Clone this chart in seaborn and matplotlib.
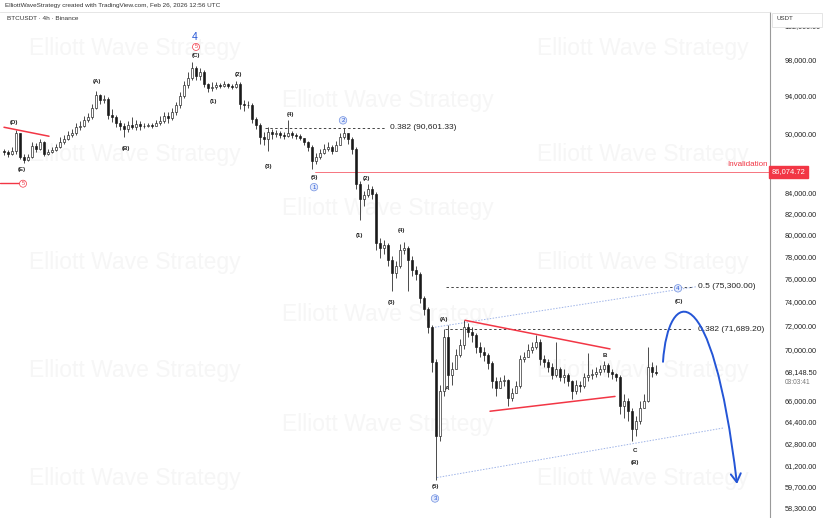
import numpy as np
import matplotlib
matplotlib.use("Agg")
import matplotlib.pyplot as plt
import matplotlib.transforms as mtransforms
from matplotlib.path import Path
from matplotlib.patches import FancyArrowPatch, Rectangle
from matplotlib.ticker import NullLocator, FixedLocator
import seaborn as sns

# BTCUSDT 4h candles
first_open = 88200
closes = [88060, 87860, 88170, 90010, 87560, 87260, 87560, 88680, 88370, 89080,
          87860, 88060, 88270, 88570, 89080, 89390, 89810, 90010, 90640, 90740,
          91370, 91680, 92740, 94140, 93600, 93710, 91890, 91680, 91060, 90740,
          90430, 90850, 90640, 90950, 90740, 90740, 90850, 90740, 91060, 91260,
          91790, 91580, 92210, 92960, 94030, 95220, 96000, 97100, 96210, 96660,
          95330, 94900, 95000, 95220, 95110, 95330, 95110, 95000, 95330, 93170,
          92960, 93060, 91470, 90850, 89600, 89390, 90120, 89910, 90010, 89810,
          89700, 90010, 89810, 89700, 89490, 89080, 88570, 87160, 87560, 87960,
          88370, 88570, 88170, 88780, 89600, 90010, 89390, 88370, 84890, 83440,
          83820, 84400, 83920, 79230, 78780, 79050, 77700, 76550, 77170, 78600,
          78780, 77700, 76810, 76460, 74380, 73360, 71860, 69030, 63340, 66700,
          71040, 68010, 68480, 69590, 70390, 71860, 71450, 71200, 70230, 69830,
          69590, 68950, 67470, 66930, 67470, 67620, 66160, 66540, 67080, 69270,
          69430, 69990, 70230, 70640, 69270, 69030, 68640, 68010, 68480, 67850,
          68010, 67470, 66700, 67230, 67080, 67850, 68010, 68090, 68250, 68480,
          68800, 68250, 68090, 67850, 65560, 65930, 65180, 63850, 64440, 65410,
          65930, 68640, 68250, 68148.5]
highs = [88370, 88270, 88570, 90330, 89810, 87860, 87860, 89080, 88980, 89390,
         89180, 88370, 88570, 88880, 89600, 89810, 90220, 90430, 91060, 91260,
         91790, 92110, 93170, 94570, 94250, 94140, 93920, 92530, 91890, 91370,
         91060, 91260, 91680, 91370, 91260, 91060, 91060, 91060, 91370, 91790,
         92210, 92210, 92640, 93390, 94470, 95660, 96660, 97780, 97330, 97100,
         96880, 95440, 95550, 95550, 95440, 95660, 95440, 95330, 95660, 95550,
         93600, 93490, 93280, 91680, 91060, 90120, 90640, 90430, 90330, 90220,
         90120, 91370, 90220, 90010, 89910, 89490, 89180, 88780, 87960, 88370,
         88880, 89080, 88780, 89180, 90010, 90530, 90010, 89600, 88570, 85180,
         84210, 84890, 84690, 84110, 79690, 79500, 79230, 78060, 77610, 79140,
         79320, 78960, 78060, 77170, 76640, 74550, 73530, 72030, 69270, 67230,
         71700, 72030, 69030, 70070, 70880, 72440, 72200, 71860, 71370, 70640,
         70230, 69750, 69110, 67850, 67850, 68010, 67700, 66930, 67470, 69590,
         69830, 70470, 70640, 71200, 70880, 69590, 69270, 68950, 70640, 68640,
         68480, 68170, 67620, 67620, 67540, 68170, 69750, 68480, 68640, 68800,
         69110, 68950, 68480, 68170, 68010, 66460, 66160, 65410, 64810, 65930,
         66460, 70230, 69030, 68800]
lows = [87760, 87560, 87760, 87860, 87360, 86960, 87160, 87460, 88060, 88270,
        87660, 87760, 87960, 88170, 88470, 88880, 89290, 89600, 89810, 90330,
        90640, 91160, 91470, 92530, 93170, 93280, 91470, 91160, 90640, 90330,
        89600, 90120, 90430, 90330, 90330, 90530, 90640, 90530, 90740, 90850,
        91060, 91060, 91370, 91890, 92740, 93820, 94900, 95770, 95770, 95770,
        95000, 94470, 94570, 94790, 94900, 95000, 94900, 94790, 94900, 92530,
        92320, 92640, 91060, 90430, 88880, 88780, 88170, 89390, 89600, 89490,
        89390, 89600, 89490, 89390, 89290, 88780, 88170, 86370, 86860, 87360,
        87860, 88170, 87860, 88170, 88780, 89390, 88880, 87860, 84400, 81350,
        82680, 83630, 83440, 78600, 77880, 78240, 77170, 74980, 76110, 76990,
        78240, 74980, 76290, 75930, 73870, 72860, 71370, 68250, 60150, 62970,
        66310, 66930, 67230, 68480, 69430, 70070, 71040, 70640, 69750, 69430,
        69110, 68480, 66930, 66310, 66930, 67080, 65560, 65930, 66620, 66930,
        69030, 69430, 69750, 70070, 68800, 68640, 68250, 67700, 67850, 67470,
        67390, 67080, 66080, 66470, 66620, 66930, 67540, 67700, 67850, 68010,
        68250, 67850, 67700, 67540, 64960, 64660, 64440, 62970, 63340, 64220,
        65410, 65860, 67850, 68010]

price_ticks = [102000, 98000, 94000, 90000, 84000, 82000, 80000, 78000, 76000,
               74000, 72000, 70000, 66000, 64400, 62800, 61200, 59700, 58300]

fib_upper = 90601.33
invalidation = 86074.72
fib_half = 75300.00
fib_382 = 71689.20
last_price = 68148.50

# wave labels: (candle index, price, text)
wave_labels = [(2.5, 91160, "(D)"), (4.5, 86270, "(E)"), (23.25, 95550, "(A)"),
               (30.5, 88470, "(B)"), (48, 98480, "(C)"), (52.25, 93390, "(1)"),
               (58.5, 96320, "(2)"), (66.25, 86570, "(3)"), (71.5, 92000, "(4)"),
               (77.5, 85480, "(5)"), (88.75, 79970, "(1)"), (90.5, 85380, "(2)"),
               (97, 73950, "(3)"), (99.25, 80430, "(4)"), (110, 72530, "(A)"),
               (110.75, 66930, "A"), (107.75, 59730, "(5)"), (150.25, 69510, "B"),
               (157.75, 62300, "C"), (157.75, 61430, "(B)"), (168.75, 74070, "(C)")]
blue_circles = [(77.5, 84550, "1"), (84.75, 91370, "2"), (107.75, 58900, "3"),
                (168.5, 75180, "4")]
red_circles = [(4.75, 84890, "5"), (48, 99500, "5")]

RED = "#f23645"
BLUE = "#2455d6"

sns.set_theme(style="white")
plt.rcParams["font.family"] = ["Liberation Sans", "DejaVu Sans"]

opens = [first_open] + closes[:-1]
o = np.array(opens, dtype=float)
c = np.array(closes, dtype=float)
h = np.maximum(np.array(highs, dtype=float), np.maximum(o, c))
l = np.minimum(np.array(lows, dtype=float), np.minimum(o, c))
idx = np.arange(len(closes))

fig = plt.figure(figsize=(8.29, 5.18), dpi=100)
ax = fig.add_axes([0, 0, 770 / 829, 506 / 518])
ax.set_yscale("log")
ax.set_xlim(-1, 191.5)
ax.set_ylim(57580, 103620)

# watermark
wm_rows = [48, 101, 155, 208, 262, 315, 370, 424, 478]
wm_cols = [135, 388, 643]
for r, yy in enumerate(wm_rows):
    for k, xx in enumerate(wm_cols):
        if (r + k) % 2 == 0:
            ax.text(xx / 770, (518 - yy) / 506, "Elliott Wave Strategy", transform=ax.transAxes,
                    ha="center", va="center", fontsize=16.5, color="#f6f6f6", zorder=0)

# candles
up = c >= o
ax.vlines(idx, l, h, color="#1a1a1a", lw=0.55, zorder=3)
body_lo = np.minimum(o, c)
body_h = np.maximum(np.abs(c - o), 25)
ax.bar(idx[up], body_h[up], bottom=body_lo[up], width=0.66, color="white",
       edgecolor="#1a1a1a", linewidth=0.45, zorder=4)
ax.bar(idx[~up], body_h[~up], bottom=body_lo[~up], width=0.66, color="#1a1a1a",
       edgecolor="#1a1a1a", linewidth=0.45, zorder=4)

# fib levels
dash = (0, (2.5, 2.5))
ax.plot([65.25, 95.25], [fib_upper, fib_upper], color="#444", lw=0.7, ls=dash, zorder=2)
ax.text(96.5, fib_upper, f"0.382 ({fib_upper:,.2f})", fontsize=6.0, color="#222", va="center")
ax.plot([110.5, 172.25], [fib_half, fib_half], color="#444", lw=0.7, ls=dash, zorder=2)
ax.text(173.5, fib_half, f"0.5 ({fib_half:,.2f})", fontsize=6.0, color="#222", va="center")
ax.plot([110.25, 172.25], [fib_382, fib_382], color="#444", lw=0.7, ls=dash, zorder=2)
ax.text(173.5, fib_382, f"0.382 ({fib_382:,.2f})", fontsize=6.0, color="#222", va="center")

# invalidation
ax.plot([77.75, 191.5], [invalidation, invalidation], color=RED, lw=0.6, alpha=0.8, zorder=2)
ax.text(191, invalidation * 1.004, "Invalidation", fontsize=5.8, color=RED, ha="right", va="bottom")

# channel lines
ax.plot([107.75, 173.25], [71860, 75330], color="#9fb4e8", lw=0.7, ls=(0, (1.5, 1.5)), zorder=2)
ax.plot([108.25, 179.75], [60350, 63920], color="#9fb4e8", lw=0.7, ls=(0, (1.5, 1.5)), zorder=2)

# red trend lines
ax.plot([0, 11.25], [90640, 89700], color=RED, lw=1.1, zorder=5)
ax.plot([-1, 4.25], [84990, 84990], color=RED, lw=1.0, zorder=5)
ax.plot([115.25, 151.5], [72440, 70070], color=RED, lw=1.1, zorder=5)
ax.plot([121.5, 152.75], [65180, 66310], color=RED, lw=1.1, zorder=5)

# projected path
verts = [(164.75, 69030), (166, 75300), (177, 76500), (183.25, 59900)]
path = Path(verts, [Path.MOVETO, Path.CURVE4, Path.CURVE4, Path.CURVE4])
arrow = FancyArrowPatch(path=path, arrowstyle="->,head_length=0.5,head_width=0.3",
                        mutation_scale=12, color=BLUE, lw=1.4, zorder=6)
ax.add_patch(arrow)

# labels
for x, y, t in wave_labels:
    ax.text(x, y, t, fontsize=4.4, color="#222", ha="center", va="center",
            fontweight="bold", zorder=7)
for x, y, t in blue_circles:
    ax.text(x, y, t, fontsize=4.4, color=BLUE, ha="center", va="center", zorder=7,
            bbox=dict(boxstyle="circle,pad=0.2", fc="#e3eafc", ec="#6f8fe0", lw=0.5))
for x, y, t in red_circles:
    ax.text(x, y, t, fontsize=4.0, color=RED, ha="center", va="center", zorder=7,
            bbox=dict(boxstyle="circle,pad=0.18", fc="white", ec=RED, lw=0.5))
ax.text(47.75, 100600, "4", fontsize=7.5, color=BLUE, ha="center", va="center", zorder=7)

# price axis
ax.yaxis.tick_right()
ax.yaxis.set_major_locator(FixedLocator(price_ticks))
ax.yaxis.set_minor_locator(NullLocator())
ax.set_yticklabels([f"{v:,.2f}" for v in price_ticks])
ax.tick_params(axis="y", length=0, pad=10.5, labelsize=5.2, labelcolor="#222")
ax.set_xticks([])
for s in ["left", "bottom"]:
    ax.spines[s].set_visible(False)
ax.spines["right"].set_color("#9a9a9a")
ax.spines["right"].set_linewidth(0.8)
ax.spines["top"].set_color("#e2e2e2")
ax.spines["top"].set_linewidth(0.6)

bt = mtransforms.blended_transform_factory(ax.transAxes, ax.transData)
ax.text(1.002, invalidation, f"{invalidation:,.2f}", transform=bt, fontsize=5.4, color="white",
        ha="left", va="center", clip_on=False, zorder=8,
        bbox=dict(boxstyle="square,pad=0.3", fc=RED, ec=RED))
ax.text(1.0195, last_price, f"{last_price:,.2f}", transform=bt, fontsize=5.2, color="#222",
        ha="left", va="center", clip_on=False)
ax.text(1.0195, last_price * 0.9885, "03:03:41", transform=bt, fontsize=4.8, color="#777",
        ha="left", va="center", clip_on=False)

# header
fig.text(5 / 829, 1 - 6 / 518, "ElliottWaveStrategy created with TradingView.com, Feb 26, 2026 12:56 UTC",
         fontsize=4.6, color="#333", ha="left", va="center")
fig.text(7 / 829, 1 - 19 / 518, "BTCUSDT · 4h · Binance", fontsize=4.6, color="#333",
         ha="left", va="center")
fig.patches.append(Rectangle((772 / 829, 1 - 27 / 518), 50 / 829, 14 / 518,
                             transform=fig.transFigure, fc="white", ec="#e0e0e0", lw=0.6, zorder=5))
fig.text(777 / 829, 1 - 18 / 518, "USDT", fontsize=4.4, color="#333", ha="left", va="center", zorder=6)

plt.savefig("out.png", dpi=100)
